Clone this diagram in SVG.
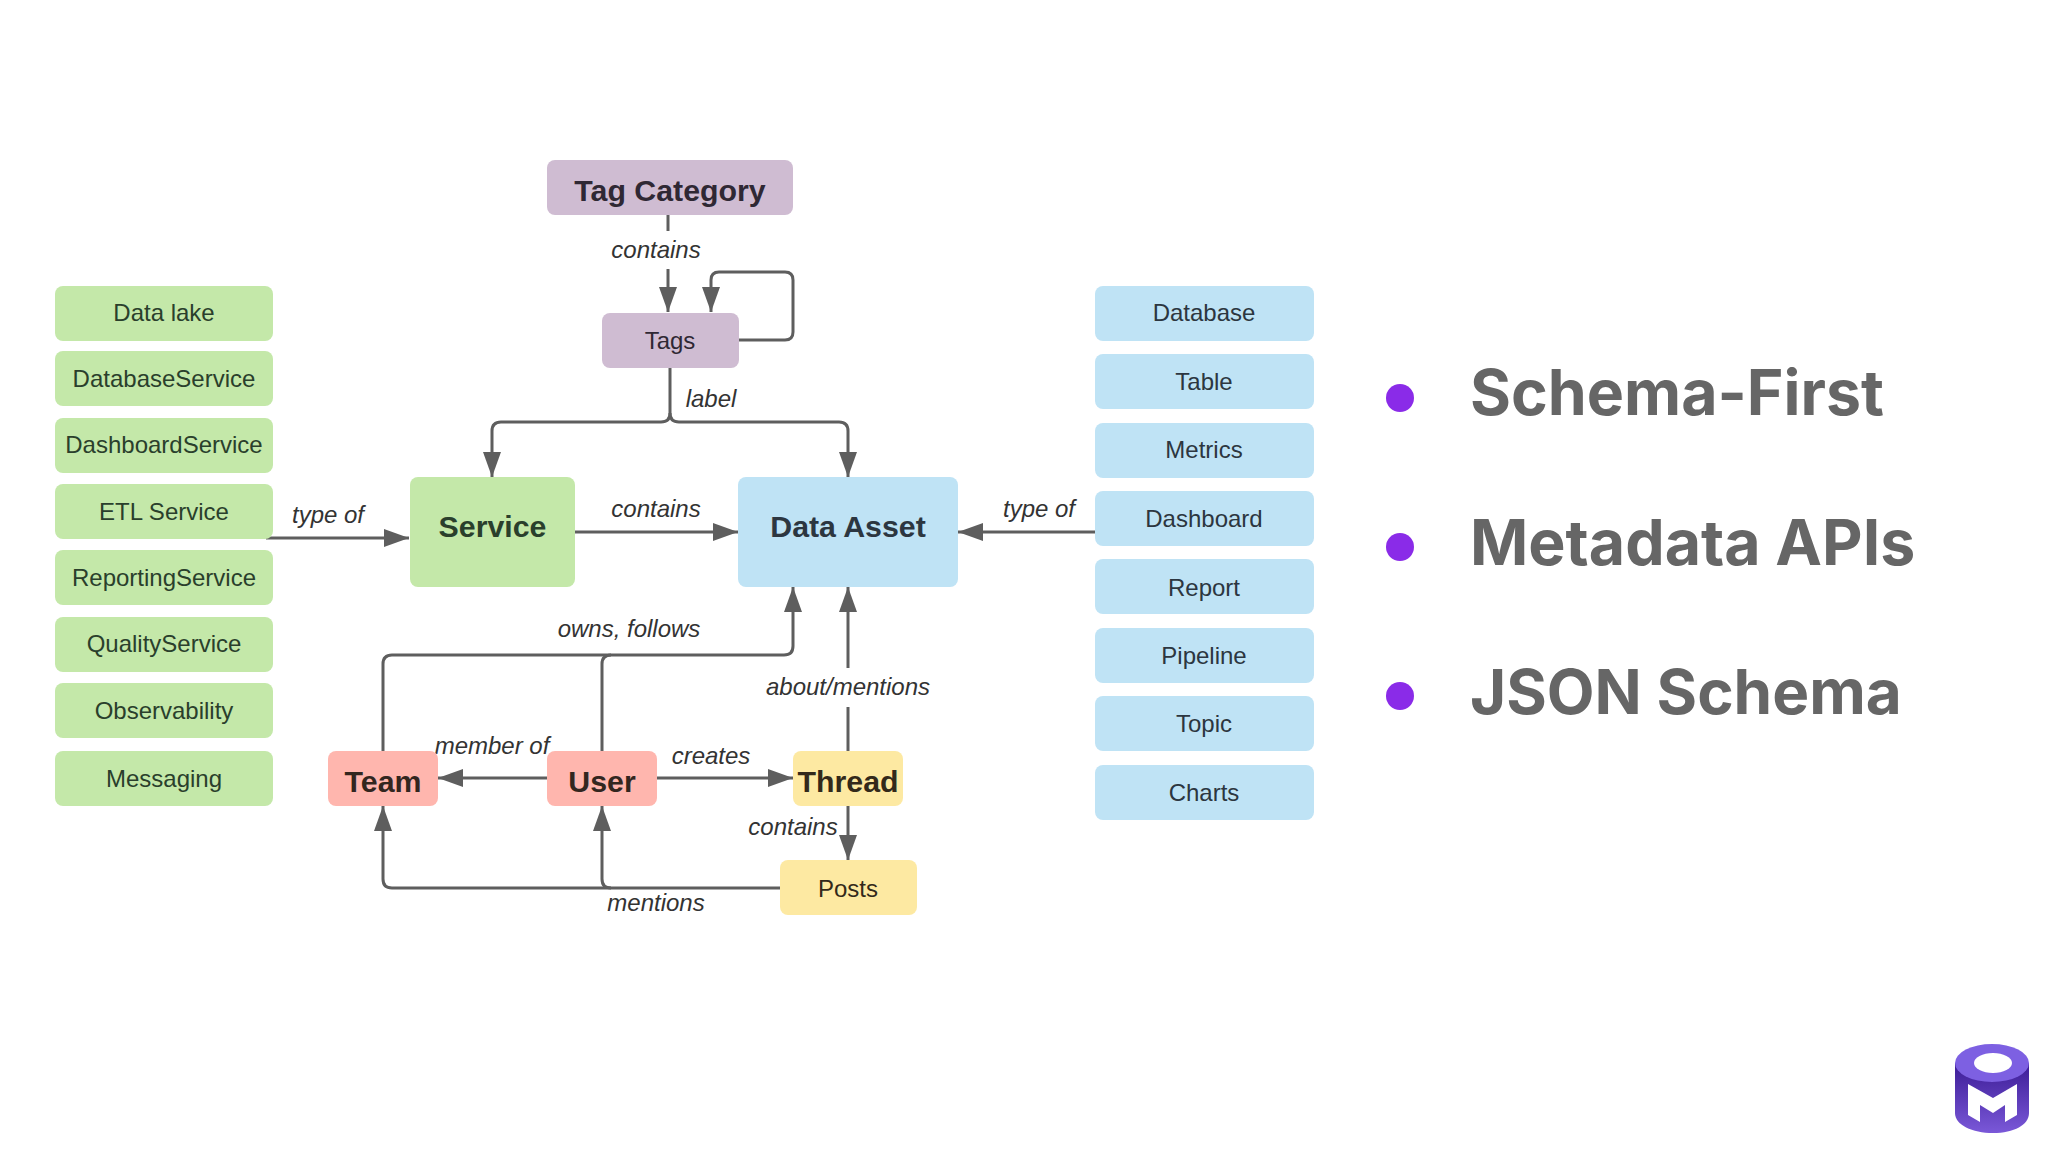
<svg xmlns="http://www.w3.org/2000/svg" width="2048" height="1152" viewBox="0 0 2048 1152">
<style>
text{font-family:"Liberation Sans",Arial,sans-serif;text-anchor:middle}
.n{font-size:24px}
.b{font-size:30.3px;font-weight:700}
.l{font-size:24px;font-style:italic;fill:#333}
.g rect{fill:#c4e8a9}.g text{fill:#2a3f2c}
.s rect{fill:#bfe3f5}.s text{fill:#2c3640}
.p rect{fill:#cfbcd2}.p text{fill:#2f2834}
.r rect{fill:#ffb6ae}.r text{fill:#33261f}
.y rect{fill:#fde9a2}.y text{fill:#33291a}
.c{fill:none;stroke:#5e5e5e;stroke-width:3}
.h text{font-family:Inter,"Liberation Sans",sans-serif;font-size:62.6px;font-weight:700;fill:#666;text-anchor:start}
</style>
<defs>
<marker id="a" markerUnits="userSpaceOnUse" markerWidth="26" markerHeight="18" refX="25" refY="9" orient="auto"><path d="M0 0L25 9L0 18Z" fill="#5e5e5e"/></marker>
<linearGradient id="body" x1="0" y1="0" x2="0" y2="1"><stop offset="0" stop-color="#3c1c96"/><stop offset="1" stop-color="#7a58d8"/></linearGradient>
</defs>
<rect width="2048" height="1152" fill="#fff"/>
<g id="connectors">
<path class="c" d="M668 214V231"/>
<path class="c" d="M668 269V312" marker-end="url(#a)"/>
<path class="c" d="M737 340H785Q793 340 793 332V280Q793 272 785 272H719Q711 272 711 280V312" marker-end="url(#a)"/>
<path class="c" d="M670 367V413Q670 422 661 422H501Q492 422 492 431V477" marker-end="url(#a)"/>
<path class="c" d="M670 413Q670 422 679 422H839Q848 422 848 431V477" marker-end="url(#a)"/>
<path class="c" d="M266 538H409" marker-end="url(#a)"/>
<path class="c" d="M574 532H738" marker-end="url(#a)"/>
<path class="c" d="M1095 532H958" marker-end="url(#a)"/>
<path class="c" d="M383 751V664Q383 655 392 655H784Q793 655 793 646V587" marker-end="url(#a)"/>
<path class="c" d="M602 751V664Q602 655 611 655"/>
<path class="c" d="M848 751V707"/>
<path class="c" d="M848 668V587" marker-end="url(#a)"/>
<path class="c" d="M547 778H438" marker-end="url(#a)"/>
<path class="c" d="M656 778H793" marker-end="url(#a)"/>
<path class="c" d="M848 805V860" marker-end="url(#a)"/>
<path class="c" d="M780 888H392Q383 888 383 879V806" marker-end="url(#a)"/>
<path class="c" d="M611 888Q602 888 602 879V806" marker-end="url(#a)"/>
</g>
<g id="connector-labels">
<text class="l" x="656" y="258">contains</text>
<text class="l" x="711" y="407">label</text>
<text class="l" x="328" y="523">type of</text>
<text class="l" x="656" y="517">contains</text>
<text class="l" x="1039" y="517">type of</text>
<text class="l" x="629" y="637">owns, follows</text>
<text class="l" x="848" y="695">about/mentions</text>
<text class="l" x="492" y="754">member of</text>
<text class="l" x="711" y="764">creates</text>
<text class="l" x="793" y="835">contains</text>
<text class="l" x="656" y="911">mentions</text>
</g>
<g id="tag-category" class="p"><rect x="547" y="160" width="246" height="55" rx="8"/><text class="b" x="670" y="201">Tag Category</text></g>
<g id="tags" class="p"><rect x="602" y="313" width="137" height="55" rx="8"/><text class="n" x="670" y="349">Tags</text></g>
<g id="service" class="g"><rect x="410" y="477" width="165" height="110" rx="8"/><text class="b" x="492.500" y="537">Service</text></g>
<g id="data-asset" class="s"><rect x="738" y="477" width="220" height="110" rx="8"/><text class="b" x="848" y="537">Data Asset</text></g>
<g id="team" class="r"><rect x="328" y="751" width="110" height="55" rx="8"/><text class="b" x="383" y="792">Team</text></g>
<g id="user" class="r"><rect x="547" y="751" width="110" height="55" rx="8"/><text class="b" x="602" y="792">User</text></g>
<g id="thread" class="y"><rect x="793" y="751" width="110" height="55" rx="8"/><text class="b" x="848" y="792">Thread</text></g>
<g id="posts" class="y"><rect x="780" y="860" width="137" height="55" rx="8"/><text class="n" x="848" y="897">Posts</text></g>
<g id="data-lake" class="g"><rect x="55" y="286" width="218" height="55" rx="8"/><text class="n" x="164" y="321">Data lake</text></g>
<g id="database-service" class="g"><rect x="55" y="351" width="218" height="55" rx="8"/><text class="n" x="164" y="387">DatabaseService</text></g>
<g id="dashboard-service" class="g"><rect x="55" y="418" width="218" height="55" rx="8"/><text class="n" x="164" y="453">DashboardService</text></g>
<g id="etl-service" class="g"><rect x="55" y="484" width="218" height="55" rx="8"/><text class="n" x="164" y="520">ETL Service</text></g>
<g id="reporting-service" class="g"><rect x="55" y="550" width="218" height="55" rx="8"/><text class="n" x="164" y="586">ReportingService</text></g>
<g id="quality-service" class="g"><rect x="55" y="617" width="218" height="55" rx="8"/><text class="n" x="164" y="652">QualityService</text></g>
<g id="observability" class="g"><rect x="55" y="683" width="218" height="55" rx="8"/><text class="n" x="164" y="719">Observability</text></g>
<g id="messaging" class="g"><rect x="55" y="751" width="218" height="55" rx="8"/><text class="n" x="164" y="787">Messaging</text></g>
<g id="database" class="s"><rect x="1095" y="286" width="219" height="55" rx="8"/><text class="n" x="1204" y="321">Database</text></g>
<g id="table" class="s"><rect x="1095" y="354" width="219" height="55" rx="8"/><text class="n" x="1204" y="390">Table</text></g>
<g id="metrics" class="s"><rect x="1095" y="423" width="219" height="55" rx="8"/><text class="n" x="1204" y="458">Metrics</text></g>
<g id="dashboard" class="s"><rect x="1095" y="491" width="219" height="55" rx="8"/><text class="n" x="1204" y="527">Dashboard</text></g>
<g id="report" class="s"><rect x="1095" y="559" width="219" height="55" rx="8"/><text class="n" x="1204" y="596">Report</text></g>
<g id="pipeline" class="s"><rect x="1095" y="628" width="219" height="55" rx="8"/><text class="n" x="1204" y="664">Pipeline</text></g>
<g id="topic" class="s"><rect x="1095" y="696" width="219" height="55" rx="8"/><text class="n" x="1204" y="732">Topic</text></g>
<g id="charts" class="s"><rect x="1095" y="765" width="219" height="55" rx="8"/><text class="n" x="1204" y="801">Charts</text></g>
<g id="bullets" class="h">
<circle cx="1400" cy="398" r="14" fill="#8a2be8"/><text x="1470" y="415">Schema-First</text>
<circle cx="1400" cy="547" r="14" fill="#8a2be8"/><text x="1470" y="565">Metadata APIs</text>
<circle cx="1400" cy="696" r="14" fill="#8a2be8"/><text x="1470" y="714" font-size="62" style="font-size:62px">JSON Schema</text>
</g>
<g id="logo">
<path d="M1955 1063V1113C1955 1125 1972 1133 1993 1133S2029 1125 2029 1113V1063Z" fill="url(#body)"/>
<ellipse cx="1992" cy="1063" rx="37" ry="19" fill="#7d60e2"/>
<ellipse cx="1993" cy="1063" rx="19" ry="10" fill="#fff"/>
<path d="M1968 1084L1993 1098L2017 1084V1115L2005 1122V1105L1993 1113L1980 1105V1122L1968 1115Z" fill="#fff"/>
</g>
</svg>
